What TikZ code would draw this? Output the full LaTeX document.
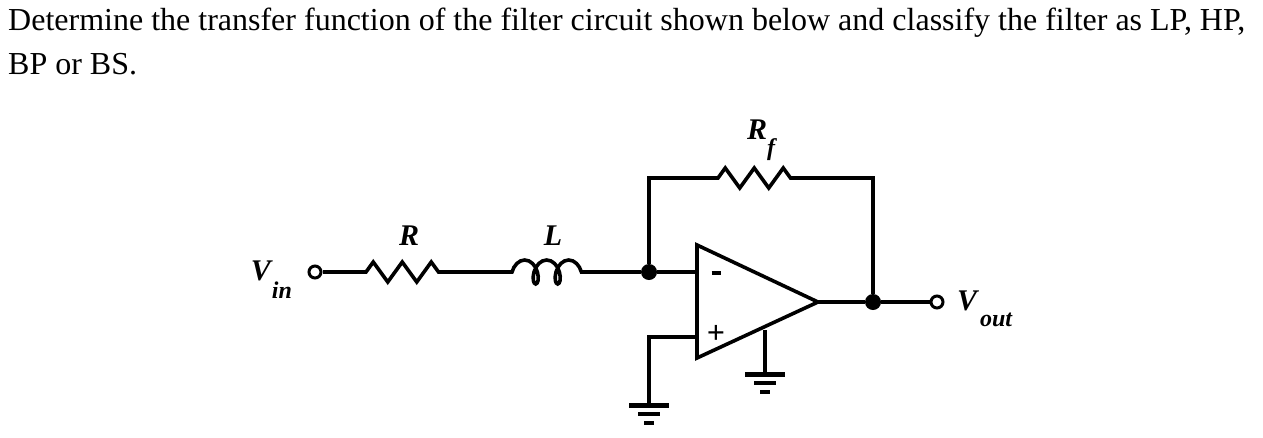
\documentclass[tikz,border=0pt]{standalone}
\usepackage{fontspec}
\setmainfont{Liberation Serif}
\usetikzlibrary{decorations.pathmorphing}
\begin{document}
\begin{tikzpicture}[x=1pt,y=-1pt,
  wire/.style={line width=3.6pt,line join=miter},
  res/.style={wire,decorate,decoration={zigzag,segment length=29pt,amplitude=10pt,pre length=6pt,post length=6pt}},
  ind/.style={wire,decorate,decoration={coil,segment length=22pt,amplitude=12pt,aspect=0.6,pre length=4pt,post length=4pt}},
  dot/.style={circle,fill=black,inner sep=0pt,minimum size=16pt},
  term/.style={circle,draw=black,line width=3pt,fill=white,inner sep=0pt,minimum size=12pt},
  lbl/.style={font=\fontsize{30}{30}\selectfont\bfseries\itshape,inner sep=0pt},
  sub/.style={font=\fontsize{24}{24}\selectfont\bfseries\itshape,inner sep=0pt},
  txt/.style={font=\fontsize{32}{32}\selectfont,anchor=base west,inner sep=0pt}]
\useasboundingbox (0,0) rectangle (1263,437);
\node[txt] (t1) at (8,30) {Determine the transfer function of the filter circuit shown below and classify the filter as LP, HP,};
\node[txt] (t2) at (8,74) {BP or BS.};
\coordinate (r1) at (360,272);
\coordinate (r2) at (456,272);
\coordinate (l1) at (508,272);
\coordinate (l2) at (602,272);
\coordinate (f1) at (712,178);
\coordinate (f2) at (808,178);
\node[dot] (n1) at (649,272) {};
\node[dot] (n2) at (873,302) {};
\coordinate (tl) at (697,245);
\coordinate (bl) at (697,358);
\coordinate (tip) at (818,302);
\coordinate (pin) at (697,337);
\coordinate (min) at (697,272);
\coordinate (g1) at (649,405);
\coordinate (g2) at (765,374);
\draw[wire] (tl) -- (tip) -- (bl) -- cycle;
\node[inner sep=0pt] (mn) at (716,273) {\rule{9pt}{3.6pt}};
\node[font=\bfseries\fontsize{32}{32}\selectfont,inner sep=0pt] (pl) at (716,334) {+};
\node[term] (vin) at (315,272) {};
\draw[wire] (vin) -- (r1);
\draw[res] (r1) -- (r2);
\draw[wire] (r2) -- (l1);
\draw[ind] (l1) -- (l2);
\draw[wire] (l2) -- (n1) -- (min);
\draw[wire] (n1) |- (f1);
\draw[res] (f1) -- (f2);
\draw[wire] (f2) -| (n2);
\draw[wire] (tip) -- (n2);
\node[term] (vout) at (937,302) {};
\draw[wire] (n2) -- (vout);
\draw[wire] (pin) -| (g1);
\draw[line width=5pt] ([xshift=-20pt]g1) -- ([xshift=20pt]g1);
\draw[line width=4pt] ([xshift=-11pt,yshift=-9pt]g1) -- ([xshift=11pt,yshift=-9pt]g1);
\draw[line width=4pt] ([xshift=-5pt,yshift=-18pt]g1) -- ([xshift=5pt,yshift=-18pt]g1);
\draw[wire] (765,330) -- (g2);
\draw[line width=5pt] ([xshift=-20pt]g2) -- ([xshift=20pt]g2);
\draw[line width=4pt] ([xshift=-11pt,yshift=-9pt]g2) -- ([xshift=11pt,yshift=-9pt]g2);
\draw[line width=4pt] ([xshift=-5pt,yshift=-18pt]g2) -- ([xshift=5pt,yshift=-18pt]g2);
\node[lbl] (lR) at (409,236) {R};
\node[lbl] (lL) at (553,236) {L};
\node[lbl] (lRf) at (757,130) {R};
\node[sub] (lf) at (771,150) {f};
\node[lbl] (lV) at (261,271) {V};
\node[sub] (lin) at (282,290) {in};
\node[lbl] (lVo) at (967,301) {V};
\node[sub] (lout) at (996,320) {out};
\end{tikzpicture}
\end{document}
